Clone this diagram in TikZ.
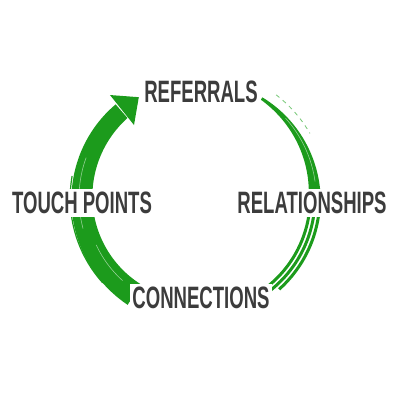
\documentclass[tikz,border=0pt]{standalone}
\usepackage{fontspec}
\newfontfamily\lblfont[FakeStretch=0.6]{Liberation Sans}
\usetikzlibrary{positioning}
\definecolor{brushgreen}{RGB}{28,155,28}
\definecolor{lightgreen}{RGB}{120,200,120}
\definecolor{labelgray}{RGB}{60,60,60}
\tikzset{
	stage/.style={fill=white, inner sep=2pt, text=labelgray, font=\lblfont\bfseries\fontsize{22}{22}\selectfont},
	brush/.style={fill=brushgreen, draw=none},
	strand/.style={draw=brushgreen, line width=0.075cm},
	streak/.style={draw=white, line width=0.4pt, opacity=0.55},
}

\begin{document}
\begin{tikzpicture}
	\useasboundingbox (0,0) rectangle (10,10);
	\coordinate (c) at (4.925,5.05);

	\begin{scope}[shift={(c)}]
		% left stroke with arrow head
		\fill[brush] plot[domain=131:237, samples=50] (\x:{3.10+0.0008*(\x-130)})
			-- plot[domain=237:131, samples=50] (\x:{2.65-0.0007*(\x-130)}) -- cycle;
		\fill[brush] (130.2:3.37) -- (120:2.91) -- (130.8:2.41) -- cycle;
		\draw[streak] (160:2.95) arc (160:195:2.95);
		\draw[streak] (205:2.78) arc (205:228:2.78);
		\draw[strand, line width=0.03cm] (170:3.17) arc (170:222:3.17);

		% right stroke
		\fill[brush] plot[domain=57:-5, samples=40] (\x:{3.0+0.1*(57-\x)/62})
			-- plot[domain=-5:57, samples=40] (\x:{3.0+0.1*(57-\x)/62-0.07-0.25*(57-\x)/62}) -- cycle;
		\draw[streak] (42:2.98) arc (42:8:2.98);
		\draw[strand] (0:3.07) arc (0:-48:3.07);
		\draw[strand] (0:2.95) arc (0:-53:2.95);
		\draw[strand] (0:2.83) arc (0:-51:2.83);
		\draw[lightgreen, line width=0.6pt, dashed] (52.5:3.25) arc (52.5:30:3.28);
	\end{scope}

	\node (referrals) [stage] at (5.025,7.7) {REFERRALS};
	\node (relationships) [stage] at (7.8,4.925) {RELATIONSHIPS};
	\node (touch) [stage] at (2.05,4.925) {TOUCH POINTS};
	\node (connections) [stage] at (5.025,2.55) {CONNECTIONS};
\end{tikzpicture}
\end{document}
